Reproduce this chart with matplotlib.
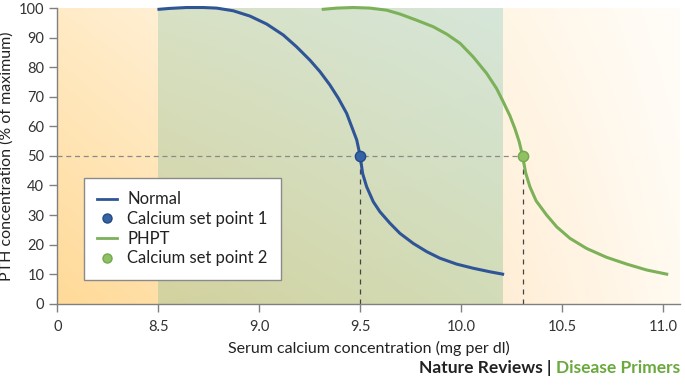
import numpy as np
import matplotlib
matplotlib.use("Agg")
import matplotlib.pyplot as plt
from matplotlib.lines import Line2D

plt.rcParams['font.family'] = ['Lato', 'DejaVu Sans']

# Data
normal_x = [8.503, 8.557, 8.640, 8.722, 8.789, 8.871, 8.954, 9.037, 9.119, 9.185,
            9.251, 9.301, 9.350, 9.392, 9.433, 9.458, 9.483, 9.500, 9.512, 9.532,
            9.565, 9.598, 9.648, 9.697, 9.763, 9.830, 9.895, 9.978, 10.060, 10.143,
            10.206]
normal_y = [99.6, 99.9, 100.2, 100.2, 100.0, 99.1, 97.3, 94.6, 90.9, 86.9,
            82.4, 78.5, 74.0, 69.5, 64.4, 59.9, 55.4, 50.0, 44.1, 39.6,
            34.5, 31.1, 27.2, 23.8, 20.4, 17.6, 15.4, 13.4, 12.0, 10.8,
            10.0]
phpt_x = [9.317, 9.384, 9.466, 9.549, 9.631, 9.697, 9.780, 9.862, 9.929, 9.995,
          10.060, 10.127, 10.176, 10.209, 10.242, 10.267, 10.288, 10.305, 10.320,
          10.341, 10.372, 10.424, 10.474, 10.540, 10.622, 10.721, 10.821, 10.920,
          11.019]
phpt_y = [99.6, 100.0, 100.2, 100.0, 99.3, 98.0, 95.9, 93.7, 91.2, 88.1,
          83.5, 77.9, 72.8, 68.3, 63.6, 59.2, 54.8, 50.0, 44.3,
          39.6, 34.8, 30.0, 26.0, 22.1, 18.7, 15.7, 13.4, 11.4,
          10.0]
set_points_x = [9.5, 10.305]
set_points_y = [50, 50]
region_edges = [8.0, 8.5, 10.21, 11.085]
x_ticks = [8.0, 8.5, 9.0, 9.5, 10.0, 10.5, 11.0]
x_tick_labels = ['0', '8.5', '9.0', '9.5', '10.0', '10.5', '11.0']
y_ticks = [0, 10, 20, 30, 40, 50, 60, 70, 80, 90, 100]

blue = '#2f5597'
green = '#7cb159'

fig = plt.figure(figsize=(6.85, 3.86), dpi=100)
ax = fig.add_axes([0.0839, 0.2132, 0.9088, 0.7658])

def grad(ax, x0, x1, c_bl, c_tr, c_br, c_tl):
    cs = [np.array(matplotlib.colors.to_rgb(c)) for c in (c_bl, c_br, c_tl, c_tr)]
    n = 64
    u = np.linspace(0, 1, n)[None, :, None]
    v = np.linspace(0, 1, n)[:, None, None]
    img = (cs[0] * (1 - u) * (1 - v) + cs[1] * u * (1 - v) +
           cs[2] * (1 - u) * v + cs[3] * u * v)
    ax.imshow(img, extent=[x0, x1, 0, 100], origin='lower', aspect='auto',
              zorder=0, interpolation='bilinear')

grad(ax, region_edges[0], region_edges[1], '#ffda98', '#ffefd3', '#ffdfa6', '#ffebc6')
grad(ax, region_edges[1], region_edges[2], '#d3d2a0', '#d6e6d9', '#d2dcb8', '#d8e1c4')
grad(ax, region_edges[2], region_edges[3], '#ffeed6', '#fffdf9', '#fffaf0', '#fff6e6')
ax.set_xlim(region_edges[0], region_edges[-1])
ax.set_ylim(0, 100)

# reference lines
ax.plot([region_edges[0], set_points_x[1]], [50, 50], ls=(0, (4, 3)), color='#8a8a8a', lw=0.9, zorder=2)
for sx in set_points_x:
    ax.plot([sx, sx], [0, 50], ls=(0, (4, 4)), color='#444444', lw=0.9, zorder=2)

ax.plot(normal_x, normal_y, color=blue, lw=2.2, zorder=3, clip_on=False)
ax.plot(phpt_x, phpt_y, color=green, lw=2.2, zorder=3, clip_on=False)
ax.scatter([set_points_x[0]], [set_points_y[0]], s=55, color='#3563a5', edgecolor='#234a85', lw=1.0, zorder=4)
ax.scatter([set_points_x[1]], [set_points_y[1]], s=55, color='#8fc063', edgecolor='#72a94c', lw=1.0, zorder=4)

ax.set_xticks(x_ticks)
ax.set_xticklabels(x_tick_labels)
ax.set_yticks(y_ticks)
for s in ['top', 'right']:
    ax.spines[s].set_visible(False)
for s in ['left', 'bottom']:
    ax.spines[s].set_color('#808080')
    ax.spines[s].set_linewidth(1.0)
ax.tick_params(axis='both', colors='#808080', length=6, width=1.0, labelcolor='#333333', labelsize=10.5)
ax.tick_params(axis='x', pad=6)
ax.set_xlabel('Serum calcium concentration (mg per dl)', fontsize=11.5, color='#222222', labelpad=5)
ax.set_ylabel('PTH concentration (% of maximum)', fontsize=11.5, color='#222222', labelpad=4)

handles = [
    Line2D([], [], color=blue, lw=2),
    Line2D([], [], ls='none', marker='o', markersize=6.5, markerfacecolor='#3563a5', markeredgecolor='#234a85'),
    Line2D([], [], color=green, lw=2),
    Line2D([], [], ls='none', marker='o', markersize=6.5, markerfacecolor='#8fc063', markeredgecolor='#72a94c'),
]
labels = ['Normal', 'Calcium set point 1', 'PHPT', 'Calcium set point 2']
leg = ax.legend(handles, labels, loc='upper left', bbox_to_anchor=(0.0426, 0.425),
                fontsize=12, frameon=True, fancybox=False, handlelength=1.2,
                handletextpad=0.6, labelspacing=0.22, borderpad=0.8, borderaxespad=0)
leg.get_frame().set_edgecolor('#8a8a8a')
leg.get_frame().set_linewidth(1.0)
leg.get_frame().set_facecolor('white')
leg.get_frame().set_alpha(1.0)
for t in leg.get_texts():
    t.set_color('#222222')

# footer
t2 = fig.text(0.993, 0.027, 'Disease Primers', ha='right', va='bottom', fontsize=12.5,
              fontweight='bold', color='#6aa93d')
fig.canvas.draw()
bb = t2.get_window_extent()
x_left = bb.x0 / fig.bbox.width
fig.text(x_left, 0.027, 'Nature Reviews | ', ha='right', va='bottom', fontsize=12.5,
         fontweight='bold', color='#222222')

fig.savefig('out.png', dpi=100)
